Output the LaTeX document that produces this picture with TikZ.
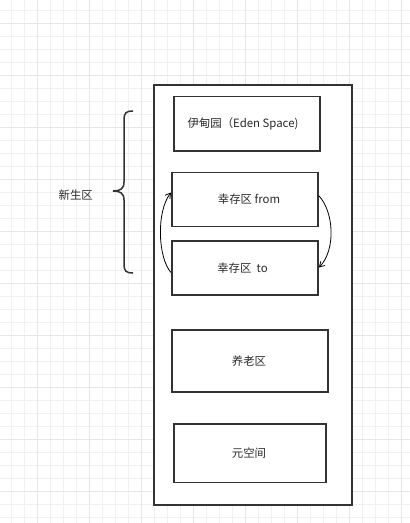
\documentclass[tikz,border=0pt]{standalone}
\usepackage{fontspec}
\setmainfont{Noto Sans CJK SC}
\usetikzlibrary{arrows.meta}
\definecolor{edge}{HTML}{333333}
\definecolor{txt}{HTML}{2A2A2A}
\definecolor{gridminor}{HTML}{F1F1F1}
\definecolor{gridmajor}{HTML}{E6E6E6}
\tikzset{
  region/.style={draw=edge, line width=1.6pt, fill=white, anchor=north west, inner sep=0pt},
  label/.style={text=txt, font=\fontsize{11.4pt}{13pt}\selectfont, inner sep=0pt},
  flow/.style={draw=black, line width=0.8pt, -{Straight Barb[length=5pt,width=6pt]}},
}
\begin{document}
\begin{tikzpicture}[x=1pt,y=-1pt]
\useasboundingbox (0,0) rectangle (410,523);
\fill[white] (0,0) rectangle (410,523);
% grid
\foreach \x in {11.5,24.5,...,410} \draw[gridminor, line width=0.8pt] (\x,0) -- (\x,523);
\foreach \y in {10,23,...,523} \draw[gridminor, line width=0.8pt] (0,\y) -- (410,\y);
\foreach \x in {37.5,89.5,...,410} \draw[gridmajor, line width=0.8pt] (\x,0) -- (\x,523);
\foreach \y in {23,75,...,523} \draw[gridmajor, line width=0.8pt] (0,\y) -- (410,\y);
% outer heap
\node[region, line width=1.9pt, minimum width=198pt, minimum height=420pt] (heap) at (153.3,84.3) {};
% inner regions
\node[region, minimum width=146pt, minimum height=54.6pt] (eden) at (173.3,95.7) {};
\node[region, minimum width=146.3pt, minimum height=54pt] (from) at (171,171.7) {};
\node[region, minimum width=146.3pt, minimum height=54pt] (to) at (171,240.3) {};
\node[region, minimum width=156.3pt, minimum height=61.7pt] (old) at (171,329.3) {};
\node[region, minimum width=152pt, minimum height=58.4pt] (meta) at (173,423.3) {};
% labels
\node[label] (edenl) at (243,124) {伊甸园（Eden Space)};
\node[label] (froml) at (249,199.5) {幸存区 from};
\node[label] (tol) at (242.5,268.5) {幸存区\ \ to};
\node[label] (oldl) at (249,361) {养老区};
\node[label] (metal) at (249,453) {元空间};
\node[label] (young) at (75.8,195) {新生区};
% brace
\draw[edge, line width=1.5pt] (133,111) .. controls (126,111) and (124,113) .. (124,120) -- (124,182) .. controls (124,189) and (120,191) .. (113,191) .. controls (120,191) and (124,193) .. (124,200) -- (124,264) .. controls (124,271) and (126,273) .. (133,273);
% survivor exchange arrows
\draw[flow] ([yshift=-4.4pt]to.west) .. controls (158,258) and (156,212) .. ([yshift=7pt]from.west);
\draw[flow] ([yshift=3.7pt]from.east) .. controls (334,212) and (336,250) .. ([yshift=0.6pt]to.east);
\end{tikzpicture}
\end{document}
